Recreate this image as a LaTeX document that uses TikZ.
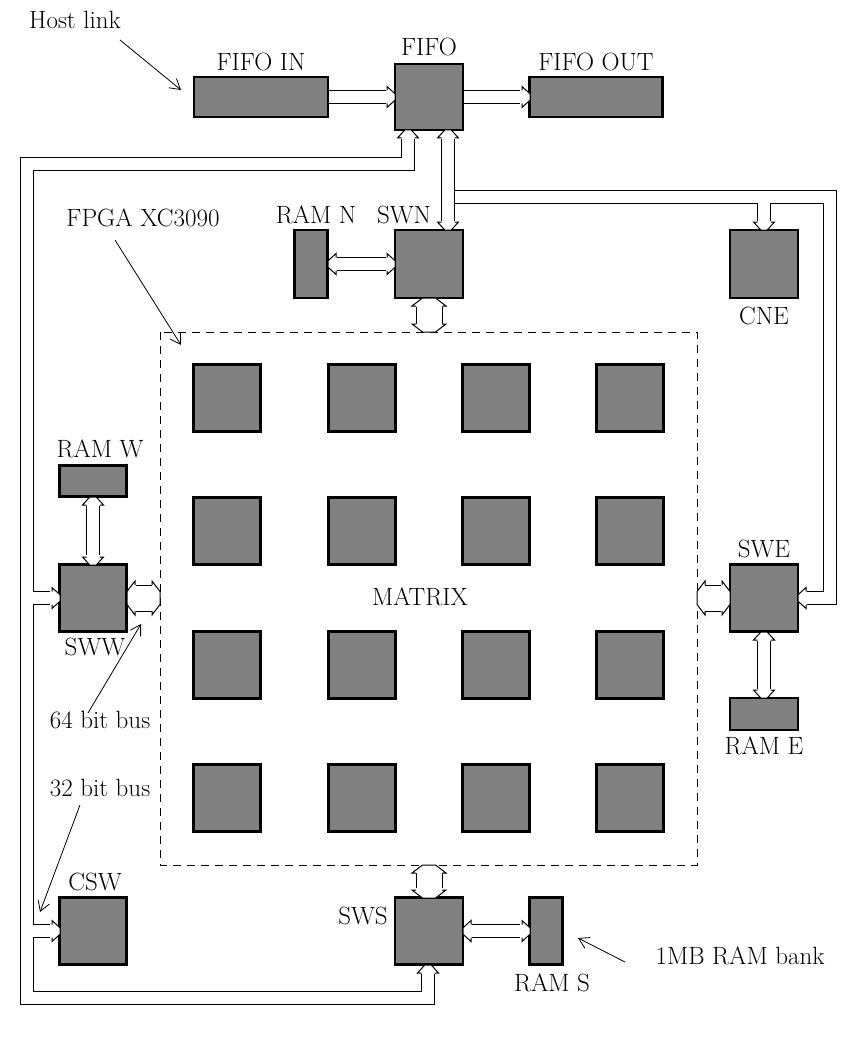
\documentclass[tikz,border=0pt]{standalone}
\usetikzlibrary{arrows.meta}
\newcommand\bhd[4]{\begin{scope}[shift={(#1,#2)},rotate=#3]
  \filldraw[fill=white,line width=1pt,line join=miter] (-8,-#4) -- (-8,-#4-4) -- (0,-#4/2) -- (0,#4/2) -- (-8,#4+4) -- (-8,#4);
  \end{scope}}
\begin{document}
\begin{tikzpicture}[x=1pt,y=-1pt,
  box/.style={draw,line width=2.5pt,fill=black!50,inner sep=0},
  lbl/.style={font=\fontsize{25}{28}\selectfont},
  bus/.style={double,double distance=12pt,line width=1pt,shorten <=8pt,shorten >=8pt},
  busA/.style={double,double distance=12pt,line width=1pt,shorten >=8pt},
  wbus/.style={double,double distance=25pt,line width=1pt,shorten <=8pt,shorten >=8pt},
  note/.style={line width=0.8pt,-{Straight Barb[length=10pt,width=12pt]}}]
\useasboundingbox (0,0) rectangle (858,1051);
% boxes
\node[box,minimum width=134pt,minimum height=40pt] (fi) at (261,97) {};
\node[box,minimum width=68pt,minimum height=66pt] (fifo) at (429,97) {};
\node[box,minimum width=133pt,minimum height=40pt] (fo) at (596,97) {};
\node[box,minimum width=68pt,minimum height=68pt] (swn) at (429,264) {};
\node[box,minimum width=33pt,minimum height=68pt] (ramn) at (311,264) {};
\node[box,minimum width=68pt,minimum height=68pt] (cne) at (764,264) {};
\node[box,minimum width=67pt,minimum height=31pt] (ramw) at (93,481) {};
\node[box,minimum width=67pt,minimum height=67pt] (sww) at (93,598) {};
\node[box,minimum width=67pt,minimum height=67pt] (csw) at (93,931) {};
\node[box,minimum width=68pt,minimum height=67pt] (sws) at (429,931) {};
\node[box,minimum width=33pt,minimum height=67pt] (rams) at (546,931) {};
\node[box,minimum width=68pt,minimum height=67pt] (swe) at (764,598) {};
\node[box,minimum width=68pt,minimum height=32pt] (rame) at (764,714) {};
\foreach \x in {227,362,496,630} \foreach \y in {398,531,665,798}
  \node[box,minimum width=67pt,minimum height=67pt] at (\x,\y) {};
\draw[line width=0.8pt,dash pattern=on 8pt off 6pt] (160,332) rectangle (697,865);
% labels
\node[lbl] at (75,20) {Host link};
\node[lbl] at (261,62) {FIFO IN};
\node[lbl] at (429,47) {FIFO};
\node[lbl] at (596,62) {FIFO OUT};
\node[lbl] at (143,218) {FPGA XC3090};
\node[lbl] at (316,215) {RAM N};
\node[lbl] at (404,215) {SWN};
\node[lbl] at (764,316) {CNE};
\node[lbl] at (100,449) {RAM W};
\node[lbl] at (95,647) {SWW};
\node[lbl] at (420,597) {MATRIX};
\node[lbl] at (764,549) {SWE};
\node[lbl] at (764,746) {RAM E};
\node[lbl] at (100,720) {64 bit bus};
\node[lbl] at (100,788) {32 bit bus};
\node[lbl] at (95,882) {CSW};
\node[lbl] at (363,916) {SWS};
\node[lbl] at (552,983) {RAM S};
\node[lbl] at (740,956) {1MB RAM bank};
% notes
\draw[note] (120,40) -- (181,90);
\draw[note] (115,240) -- (181,345);
\draw[note] (88,713) -- (141,624);
\draw[note] (80,805) -- (40,912);
\draw[note] (625,962) -- (578,938);
% buses
\draw[busA] (fi.east) -- (fifo.west); \bhd{395}{97}{0}{6.5}
\draw[busA] (fifo.east) -- (fo.west); \bhd{530}{97}{0}{6.5}
\draw[bus] (ramn.east) -- (swn.west); \bhd{328}{264}{180}{6.5} \bhd{395}{264}{0}{6.5}
\draw[wbus] (swn.south) -- (429,332); \bhd{429}{298}{90}{13} \bhd{429}{332}{-90}{13}
\draw[wbus] (sws.north) -- (429,865); \bhd{429}{898}{-90}{13} \bhd{429}{865}{90}{13}
\draw[wbus] (sww.east) -- (160,598); \bhd{127}{598}{180}{13} \bhd{160}{598}{0}{13}
\draw[wbus] (swe.west) -- (697,598); \bhd{730}{598}{0}{13} \bhd{697}{598}{180}{13}
\draw[bus] (ramw.south) -- (sww.north); \bhd{93}{497}{90}{6.5} \bhd{93}{565}{-90}{6.5}
\draw[bus] (swe.south) -- (rame.north); \bhd{764}{632}{90}{6.5} \bhd{764}{698}{-90}{6.5}
\draw[bus] (sws.east) -- (rams.west); \bhd{463}{931}{180}{6.5} \bhd{530}{931}{0}{6.5}
% left loop
\draw[bus] (fifo.south -| 408,0) -- (408,164) -- (27,164) -- (27,998) -- (428,998) -- (sws.south -| 428,0);
\bhd{408}{130}{90}{6.5} \bhd{428}{965}{90}{6.5}
\draw[busA] (32.5,598) -- (sww.west); \bhd{60}{598}{0}{6.5}
\draw[busA] (32.5,931) -- (csw.west); \bhd{60}{931}{0}{6.5}
% right loop
\draw[bus] (fifo.south -| 448,0) -- (swn.north -| 448,0);
\bhd{448}{130}{90}{6.5} \bhd{448}{230}{-90}{6.5}
\draw[busA] (454.5,197) -- (830,197) -- (830,598) -- (swe.east); \bhd{798}{598}{180}{6.5}
\draw[busA] (764,203) -- (cne.north); \bhd{764}{230}{-90}{6.5}
\end{tikzpicture}
\end{document}
